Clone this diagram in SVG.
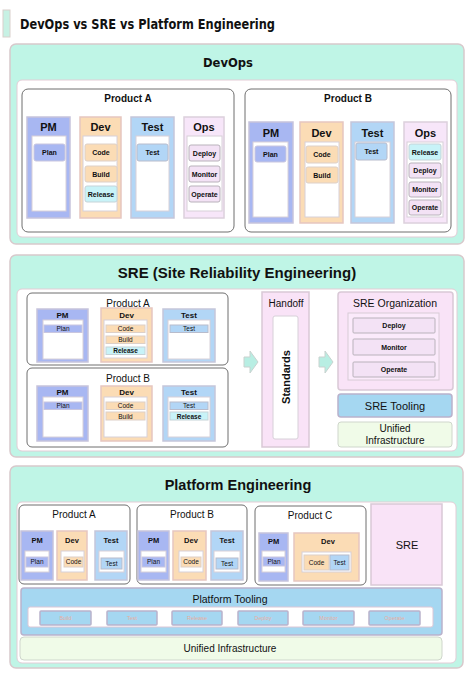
<svg xmlns="http://www.w3.org/2000/svg" width="474" height="679" viewBox="0 0 474 679">
<style>
text{font-family:"Liberation Sans",Arial,sans-serif;fill:#111;text-anchor:middle}
.comic{font-family:"DejaVu Sans","Liberation Sans",sans-serif;font-weight:bold}
.start{text-anchor:start}
.b{font-weight:bold}
.mint{fill:#bff5e6;stroke:#d8c9cc;stroke-width:1.5}
.panel{fill:#fff;stroke:#e3ccd6;stroke-width:1}
.prod{fill:#fff;stroke:#6f6f6f;stroke-width:1}
.pm{fill:#a8b7f2;stroke:#c6c3dc;stroke-width:1.5}
.dev{fill:#fbdcb5;stroke:#e6c6c0;stroke-width:1.5}
.test{fill:#b2d6f6;stroke:#c5c6da;stroke-width:1.5}
.ops{fill:#f7e6f9;stroke:#dcd0dc;stroke-width:1.5}
.w{fill:#fff;stroke:#d7d0d8;stroke-width:1}
.ipm{fill:#a8b7f2;stroke:#c9c6df;stroke-width:1}
.idev{fill:#fbdcb5;stroke:#ddd0c8;stroke-width:1}
.itest{fill:#b2d6f6;stroke:#b8bccc;stroke-width:1}
.iops{fill:#f3e2f5;stroke:#b9b2bb;stroke-width:1}
.rel{fill:#c8f3f8;stroke:#c6d3d8;stroke-width:1}
.pink{fill:#f9e3f7;stroke:#d9c9d6;stroke-width:1.5}
.tool{fill:#a5d7f1;stroke:#b9b2cc;stroke-width:1.5}
.infra{fill:#f0fbe8;stroke:#cfd6cc;stroke-width:1}
.arrow{fill:#b8eee3;stroke:#c9d2cf;stroke-width:1}
.faint{fill:#e8ad9f;font-size:5.5px}
.h1{font-size:11px;font-weight:bold}
.it{font-size:7px;font-weight:bold}
.s{font-size:6.5px}
</style>

<g id="title">
<rect x="3" y="10" width="7" height="27" fill="#c7f1e4" stroke="#d9d0cc"/>
<text class="comic start" x="20" y="29" font-size="14" textLength="255" lengthAdjust="spacingAndGlyphs">DevOps vs SRE vs Platform Engineering</text>
</g>

<!-- ============ DevOps ============ -->
<g id="devops">
<rect class="mint" x="10" y="44" width="454" height="200" rx="6"/>
<text class="comic" x="228" y="67" font-size="13" textLength="50" lengthAdjust="spacingAndGlyphs">DevOps</text>
<rect class="panel" x="17" y="80" width="440" height="157" rx="5"/>
</g>

<g id="devops-productA">
<rect class="prod" x="22" y="89" width="212" height="143" rx="6"/>
<text class="b" x="128" y="102" font-size="10">Product A</text>
<rect class="pm" x="27" y="117" width="43" height="101"/>
<text class="h1" x="48.5" y="131">PM</text>
<rect class="w" x="32" y="136" width="34" height="75"/>
<rect class="ipm" x="34" y="144" width="31" height="17" rx="2"/>
<text class="it" x="49.5" y="155">Plan</text>
<rect class="dev" x="80" y="117" width="41" height="101"/>
<text class="h1" x="100.5" y="131">Dev</text>
<rect class="w" x="83" y="136" width="34" height="75"/>
<rect class="idev" x="85" y="144" width="32" height="17" rx="2"/>
<text class="it" x="101" y="155">Code</text>
<rect class="idev" x="85" y="166" width="32" height="16" rx="2"/>
<text class="it" x="101" y="176.5">Build</text>
<rect class="rel" x="85" y="186" width="32" height="16" rx="2"/>
<text class="it" x="101" y="196.5">Release</text>
<rect class="test" x="131" y="117" width="43" height="101"/>
<text class="h1" x="152.5" y="131">Test</text>
<rect class="w" x="136" y="136" width="33" height="75"/>
<rect class="itest" x="137" y="144" width="31" height="17" rx="2"/>
<text class="it" x="152.5" y="155">Test</text>
<rect class="ops" x="184" y="117" width="40" height="101"/>
<text class="h1" x="204" y="131">Ops</text>
<rect class="w" x="187" y="136" width="35" height="75"/>
<rect class="iops" x="189" y="145" width="31" height="16" rx="2"/>
<text class="it" x="204.5" y="155.5">Deploy</text>
<rect class="iops" x="189" y="166" width="31" height="16" rx="2"/>
<text class="it" x="204.5" y="176.5">Monitor</text>
<rect class="iops" x="189" y="186" width="31" height="16" rx="2"/>
<text class="it" x="204.5" y="196.5">Operate</text>
</g>

<g id="devops-productB">
<rect class="prod" x="245" y="89" width="206" height="143" rx="6"/>
<text class="b" x="348" y="102" font-size="10">Product B</text>
<rect class="pm" x="249" y="122" width="44" height="101"/>
<text class="h1" x="271" y="137">PM</text>
<rect class="w" x="253" y="142" width="35" height="75"/>
<rect class="ipm" x="255" y="146" width="31" height="16" rx="2"/>
<text class="it" x="270.5" y="156.5">Plan</text>
<rect class="dev" x="300" y="122" width="43" height="101"/>
<text class="h1" x="321.5" y="137">Dev</text>
<rect class="w" x="305" y="142" width="34" height="75"/>
<rect class="idev" x="306" y="146" width="32" height="17" rx="2"/>
<text class="it" x="322" y="157">Code</text>
<rect class="idev" x="306" y="167" width="32" height="16" rx="2"/>
<text class="it" x="322" y="177.5">Build</text>
<rect class="test" x="351" y="122" width="43" height="101"/>
<text class="h1" x="372.5" y="137">Test</text>
<rect class="w" x="355" y="142" width="35" height="75"/>
<rect class="itest" x="356" y="143" width="31" height="17" rx="2"/>
<text class="it" x="371.5" y="154">Test</text>
<rect class="ops" x="404" y="122" width="43" height="101"/>
<text class="h1" x="425.5" y="137">Ops</text>
<rect class="w" x="407" y="142" width="36" height="75"/>
<rect class="rel" x="409" y="144" width="32" height="16" rx="2"/>
<text class="it" x="425" y="154.5">Release</text>
<rect class="iops" x="409" y="163" width="32" height="15" rx="2"/>
<text class="it" x="425" y="173">Deploy</text>
<rect class="iops" x="409" y="182" width="32" height="15" rx="2"/>
<text class="it" x="425" y="192">Monitor</text>
<rect class="iops" x="409" y="200" width="32" height="15" rx="2"/>
<text class="it" x="425" y="210">Operate</text>
</g>

<!-- ============ SRE ============ -->
<g id="sre">
<rect class="mint" x="10" y="255" width="454" height="202" rx="6"/>
<text class="b" x="237" y="278" font-size="15">SRE (Site Reliability Engineering)</text>
<rect class="panel" x="17" y="289" width="440" height="162" rx="5"/>
</g>

<g id="sre-productA">
<rect class="prod" x="27" y="293" width="201" height="72" rx="5"/>
<text x="128" y="307" font-size="10">Product A</text>
<rect class="pm" x="37" y="309" width="51" height="53"/>
<text class="b" x="62.5" y="318" font-size="8">PM</text>
<rect class="w" x="43" y="320" width="40" height="39"/>
<rect class="ipm" x="44" y="325" width="38" height="7.5"/>
<text class="s" x="63" y="331">Plan</text>
<rect class="dev" x="101" y="308" width="51" height="54"/>
<text class="b" x="126.5" y="318" font-size="8">Dev</text>
<rect class="w" x="104" y="320" width="43" height="38"/>
<rect class="idev" x="106" y="325" width="39" height="7.5"/>
<text class="s" x="125.5" y="331">Code</text>
<rect class="idev" x="106" y="336" width="39" height="7.5"/>
<text class="s" x="125.5" y="342">Build</text>
<rect class="rel" x="106" y="347" width="39" height="7.5"/>
<text class="s b" x="125.5" y="353">Release</text>
<rect class="test" x="163" y="309" width="52" height="53"/>
<text class="b" x="189" y="318" font-size="8">Test</text>
<rect class="w" x="168" y="320" width="42" height="39"/>
<rect class="itest" x="170" y="325" width="38" height="7.5"/>
<text class="s" x="189" y="331">Test</text>
</g>

<g id="sre-productB">
<rect class="prod" x="27" y="368" width="201" height="79" rx="5"/>
<text x="128" y="382" font-size="10">Product B</text>
<rect class="pm" x="37" y="386" width="51" height="55"/>
<text class="b" x="62.5" y="395" font-size="8">PM</text>
<rect class="w" x="43" y="397" width="40" height="40"/>
<rect class="ipm" x="44" y="402" width="38" height="7.5"/>
<text class="s" x="63" y="408">Plan</text>
<rect class="dev" x="101" y="386" width="51" height="55"/>
<text class="b" x="126.5" y="395" font-size="8">Dev</text>
<rect class="w" x="104" y="397" width="43" height="40"/>
<rect class="idev" x="106" y="402" width="39" height="7.5"/>
<text class="s" x="125.5" y="408">Code</text>
<rect class="idev" x="106" y="412" width="39" height="8"/>
<text class="s" x="125.5" y="418.5">Build</text>
<rect class="test" x="163" y="386" width="52" height="55"/>
<text class="b" x="189" y="395" font-size="8">Test</text>
<rect class="w" x="168" y="397" width="42" height="40"/>
<rect class="itest" x="170" y="402" width="38" height="7.5"/>
<text class="s" x="189" y="408">Test</text>
<rect class="rel" x="170" y="412" width="38" height="8"/>
<text class="s b" x="189" y="418.5">Release</text>
</g>

<g id="sre-handoff">
<rect class="pink" x="262" y="292" width="47" height="155"/>
<text x="286" y="307" font-size="10">Handoff</text>
<rect class="w" x="273" y="316" width="25" height="123" rx="2"/>
<text class="b" x="0" y="0" font-size="11" transform="translate(290,377) rotate(-90)">Standards</text>
</g>

<g id="sre-organization">
<rect class="pink" x="338" y="292" width="115" height="98" rx="3"/>
<text x="395" y="307" font-size="10.5">SRE Organization</text>
<rect fill="#fbeafb" stroke="#d8ccd6" x="348" y="313" width="91" height="67"/>
<rect class="iops" x="353" y="318" width="82" height="15" rx="1"/>
<text class="b" x="394" y="328" font-size="7">Deploy</text>
<rect class="iops" x="353" y="339" width="82" height="16" rx="1"/>
<text class="b" x="394" y="349.5" font-size="7">Monitor</text>
<rect class="iops" x="353" y="362" width="82" height="15" rx="1"/>
<text class="b" x="394" y="372" font-size="7">Operate</text>
</g>

<g id="sre-tooling">
<rect class="tool" x="338" y="394" width="114" height="23" rx="3"/>
<text x="395" y="410" font-size="11">SRE Tooling</text>
</g>

<g id="sre-infra">
<rect class="infra" x="338" y="422" width="114" height="25" rx="3"/>
<text x="395" y="432" font-size="10">Unified</text>
<text x="395" y="444" font-size="10">Infrastructure</text>
</g>

<g id="connectors">
<path class="arrow" d="M244,357 h6 v-6 l8,11 l-8,11 v-6 h-6 z"/>
<path class="arrow" d="M319,357 h6 v-6 l8,11 l-8,11 v-6 h-6 z"/>
</g>

<!-- ============ Platform Engineering ============ -->
<g id="platform">
<rect class="mint" x="10" y="466" width="453" height="202" rx="6"/>
<text class="b" x="238" y="490" font-size="14.5">Platform Engineering</text>
<rect class="panel" x="17" y="502" width="439" height="161" rx="5"/>
</g>

<g id="platform-productA">
<rect class="prod" x="19" y="505" width="111" height="79" rx="5"/>
<text x="74" y="518" font-size="10">Product A</text>
<rect class="pm" x="21" y="531" width="32" height="49"/>
<text class="b" x="37" y="543" font-size="7.5">PM</text>
<rect class="w" x="25" y="551" width="24" height="21"/>
<rect class="ipm" x="26" y="557" width="22" height="10"/>
<text class="s" x="37" y="564">Plan</text>
<rect class="dev" x="57" y="531" width="30" height="49"/>
<text class="b" x="72" y="543" font-size="7.5">Dev</text>
<rect class="w" x="61" y="551" width="23" height="21"/>
<rect class="idev" x="64" y="557" width="19" height="10"/>
<text class="s" x="73.5" y="564">Code</text>
<rect class="test" x="95" y="531" width="32" height="49"/>
<text class="b" x="111" y="543" font-size="7.5">Test</text>
<rect class="w" x="99" y="551" width="25" height="21"/>
<rect class="itest" x="101" y="558" width="21" height="11"/>
<text class="s" x="111.5" y="565.5">Test</text>
</g>

<g id="platform-productB">
<rect class="prod" x="137" y="505" width="110" height="79" rx="5"/>
<text x="192" y="518" font-size="10">Product B</text>
<rect class="pm" x="138" y="531" width="31" height="49"/>
<text class="b" x="153.5" y="543" font-size="7.5">PM</text>
<rect class="w" x="141" y="551" width="25" height="21"/>
<rect class="ipm" x="142" y="557" width="23" height="10"/>
<text class="s" x="153.5" y="564">Plan</text>
<rect class="dev" x="173" y="531" width="33" height="49"/>
<text class="b" x="191" y="543" font-size="7.5">Dev</text>
<rect class="w" x="179" y="551" width="24" height="21"/>
<rect class="idev" x="181" y="557" width="20" height="10"/>
<text class="s" x="191" y="564">Code</text>
<rect class="test" x="211" y="531" width="32" height="49"/>
<text class="b" x="227" y="543" font-size="7.5">Test</text>
<rect class="w" x="214" y="551" width="26" height="21"/>
<rect class="itest" x="216" y="558" width="22" height="11"/>
<text class="s" x="227" y="565.5">Test</text>
</g>

<g id="platform-productC">
<rect class="prod" x="255" y="506" width="111" height="79" rx="5"/>
<text x="310" y="519" font-size="10">Product C</text>
<rect class="pm" x="259" y="533" width="29" height="48"/>
<text class="b" x="273.5" y="544" font-size="7.5">PM</text>
<rect class="w" x="262" y="551" width="23" height="21"/>
<rect class="ipm" x="263" y="557" width="22" height="9"/>
<text class="s" x="274" y="563.5">Plan</text>
<rect class="dev" x="294" y="533" width="65" height="48"/>
<text class="b" x="328" y="544" font-size="7.5">Dev</text>
<rect class="w" x="302" y="552" width="49" height="20"/>
<rect class="idev" x="304" y="555" width="25" height="15"/>
<text class="s" x="316.5" y="565">Code</text>
<rect class="itest" x="330" y="555" width="19" height="15"/>
<text class="s" x="339.5" y="565">Test</text>
</g>

<g id="platform-sre">
<rect class="pink" x="371" y="504" width="71" height="81"/>
<text x="407" y="549" font-size="11">SRE</text>
</g>

<g id="platform-tooling">
<rect class="tool" x="21" y="588" width="421" height="47" rx="3"/>
<text x="230" y="603" font-size="10.5">Platform Tooling</text>
<rect fill="#fff" stroke="#dcc7d6" x="28" y="607" width="405" height="20" rx="2"/>
<rect class="tool" x="40" y="611" width="51" height="14" rx="1"/>
<text class="faint" x="65.5" y="620">Build</text>
<rect class="tool" x="107" y="611" width="50" height="14" rx="1"/>
<text class="faint" x="132" y="620">Test</text>
<rect class="tool" x="172" y="611" width="50" height="14" rx="1"/>
<text class="faint" x="197" y="620">Release</text>
<rect class="tool" x="238" y="611" width="50" height="14" rx="1"/>
<text class="faint" x="263" y="620">Deploy</text>
<rect class="tool" x="303" y="611" width="51" height="14" rx="1"/>
<text class="faint" x="328.5" y="620">Monitor</text>
<rect class="tool" x="369" y="611" width="51" height="14" rx="1"/>
<text class="faint" x="394.5" y="620">Operate</text>
</g>

<g id="platform-infra">
<rect class="infra" x="20" y="637" width="422" height="23" rx="4"/>
<text x="230" y="652" font-size="10">Unified Infrastructure</text>
</g>
</svg>
